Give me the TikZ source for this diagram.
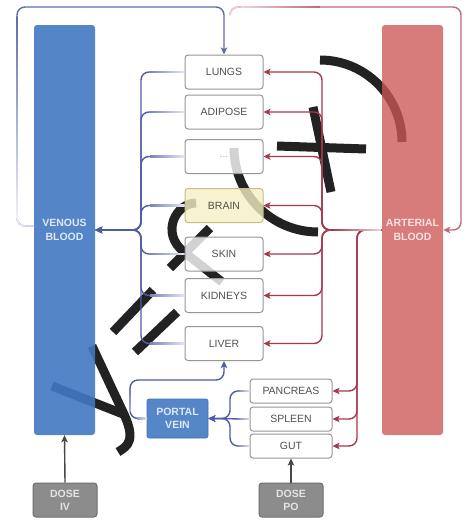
\documentclass[tikz,border=0pt]{standalone}
\usepackage{fontspec}
\setmainfont{Liberation Sans}
\usetikzlibrary{arrows.meta}
\definecolor{veinc}{RGB}{78,92,165}
\definecolor{veinlight}{RGB}{228,230,240}
\definecolor{artc}{RGB}{165,58,76}
\definecolor{artlight}{RGB}{240,212,216}
\definecolor{borderc}{RGB}{150,150,150}
\definecolor{txt}{RGB}{80,80,80}
\definecolor{vbar}{RGB}{66,120,194}
\definecolor{abar}{RGB}{204,87,87}
\definecolor{vtext}{RGB}{222,232,246}
\definecolor{atext}{RGB}{248,226,226}
\definecolor{brainf}{RGB}{245,239,195}
\definecolor{brainb}{RGB}{198,190,128}
\definecolor{pvf}{RGB}{85,134,200}
\definecolor{dosef}{RGB}{140,140,140}
\definecolor{doseb}{RGB}{110,110,110}
\definecolor{dosetxt}{RGB}{228,228,228}
\definecolor{ink}{RGB}{34,34,34}
\definecolor{dosearrow}{RGB}{70,70,70}
\begin{document}
\begin{tikzpicture}[x=1pt,y=-1pt,
  organ/.style={draw=borderc, line width=1pt, rounded corners=3pt, fill=white,
    fill opacity=0.8, text opacity=1, text=txt, minimum width=78pt,
    minimum height=34pt, inner sep=0pt, font=\fontsize{10.5}{12}\selectfont},
  gibox/.style={organ, minimum width=82pt, minimum height=24pt},
  bar/.style={rounded corners=3pt, minimum width=61pt, minimum height=410pt,
    text opacity=1, inner sep=0pt, align=center,
    font=\bfseries\fontsize{10.5}{14}\selectfont},
  pvbox/.style={fill=pvf, draw=pvf!85!black, line width=0.6pt, rounded corners=2pt,
    minimum width=61pt, minimum height=39pt, inner sep=0pt, align=center,
    text=vtext, font=\bfseries\fontsize{10.5}{13}\selectfont},
  dosebox/.style={fill=dosef, draw=doseb, line width=1pt, rounded corners=3pt,
    minimum width=64pt, minimum height=34pt, inner sep=0pt, align=center,
    text=dosetxt, font=\bfseries\fontsize{10.5}{13}\selectfont},
  tip/.style={-{Stealth[length=7pt,width=6.5pt,inset=1.5pt]}},
  vein/.style={draw=veinc, line width=1.4pt, rounded corners=8pt, tip},
  art/.style={draw=artc, line width=1.4pt, rounded corners=8pt, tip},
  doseline/.style={draw=dosearrow, line width=1.4pt, tip},
  doodle/.style={draw=ink, line width=9pt, line cap=butt}
]
\useasboundingbox (0,0) rectangle (474,530);
\fill[white] (0,0) rectangle (474,530);

% handwritten overlay (below everything)
\draw[doodle] (92,346) -- (122,410) .. controls (137,440) and (128,446) .. (118,452);
\draw[doodle] (52,386) -- (123,414);
\draw[doodle] (113,332) -- (153,290);
\draw[doodle] (135,352) -- (177,312);
\draw[doodle] (196,203) .. controls (176,203) and (160,233) .. (184,252) -- (222,282);
\draw[doodle] (210,228) -- (170,268);
\draw[doodle] (234,148) arc[start angle=180, end angle=90, radius=84];
\draw[doodle] (320,60) arc[start angle=270, end angle=360, radius=82];
\draw[doodle] (313,107) -- (331,192);
\draw[doodle] (277,146) -- (366,149);

% blood pools
\node[bar, fill=vbar, fill opacity=0.9, text=vtext] (venous) at (64.5,230) {VENOUS\\BLOOD};
\node[bar, fill=abar, fill opacity=0.78, text=atext] (arterial) at (412.5,230) {ARTERIAL\\BLOOD};

% organs
\node[organ] (lungs) at (224,72) {LUNGS};
\node[organ] (adipose) at (224,112) {ADIPOSE};
\node[organ, text=txt!45] (etc) at (224,156.5) {...};
\node[organ, fill=brainf, draw=brainb] (brain) at (224,205.5) {BRAIN};
\node[organ] (skin) at (224,254) {SKIN};
\node[organ] (kidneys) at (224,295.5) {KIDNEYS};
\node[organ] (liver) at (224,343.5) {LIVER};

\node[gibox] (pancreas) at (291,391) {PANCREAS};
\node[gibox] (spleen) at (291,419) {SPLEEN};
\node[gibox] (gut) at (291,446) {GUT};

\node[pvbox] (portal) at (177.5,418.5) {PORTAL\\VEIN};
\node[dosebox] (doseiv) at (65,500) {DOSE\\IV};
\node[dosebox] (dosepo) at (291,500) {DOSE\\PO};

% junction coordinates
\coordinate (vj) at (141,230);
\coordinate (aj) at (322,230);
\coordinate (gj) at (357,230);
\coordinate (pj) at (230,418.5);
\coordinate (vl) at (34,226);
\coordinate (lt) at (230,15);

% venous return from organs
\foreach \o in {lungs,adipose,etc,brain,skin,kidneys,liver}{
  \draw[vein] (\o.west) -| (vj) -- (venous.east);
  \shade[left color=veinc!75!white, right color=veinlight] ([yshift=-0.7pt]\o.west -| 150,0) rectangle ([yshift=0.7pt]\o.west);
}

% arterial supply to organs
\foreach \o in {lungs,adipose,etc,brain,skin,kidneys,liver}{
  \draw[art] (arterial.west) -- (aj) |- (\o.east);
}
\foreach \o in {pancreas,spleen,gut}{
  \draw[art] (arterial.west) -- (gj) |- (\o.east);
}
\shade[left color=artc, right color=artlight] (333,229.3) rectangle (381,230.7);

% splanchnic organs to portal vein
\draw[vein] (pancreas.west) -| (pj) -- (portal.east);
\draw[vein] (spleen.west) -- (portal.east);
\draw[vein] (gut.west) -| (pj) -- (portal.east);
\shade[left color=veinc!75!white, right color=veinlight] (237,390.3) rectangle (250,391.7);
\shade[left color=veinc!75!white, right color=veinlight] (237,418.3) rectangle (250,419.7);
\shade[left color=veinc!75!white, right color=veinlight] (237,445.3) rectangle (250,446.7);

% portal vein to liver
\draw[vein] (portal.west) -| (130,380) -| (liver.south);
\shade[left color=veinc!60!white, right color=veinlight] (137,417.8) rectangle (147,419.2);
\shade[top color=veinc!80!white, bottom color=veinc!50!white] (129.3,388) rectangle (130.7,411);

% venous blood to lungs (top loop)
\draw[vein, draw=veinc!90!white] (vl) -| (17,7) -| (lungs.north);
\shade[top color=veinc!90!white, bottom color=veinlight!60!white] (16.3,16) rectangle (17.7,218);
\draw[line width=1.4pt, draw=veinlight!60!white, rounded corners=8pt] (34,226) -| (17,212);

% lungs to arterial blood (top loop)
\draw[art, draw=artc!75!white] (lt) |- (461,7) |- (arterial.east);
\draw[line width=1.4pt, draw=artlight, rounded corners=8pt] (lt) |- (242,7);
\shade[left color=artlight, right color=artc!75!white] (241,6.3) rectangle (320,7.7);

% doses
\draw[doseline] (doseiv.north) -- (venous.south);
\draw[doseline] (dosepo.north) -- (gut.south);
\end{tikzpicture}
\end{document}
